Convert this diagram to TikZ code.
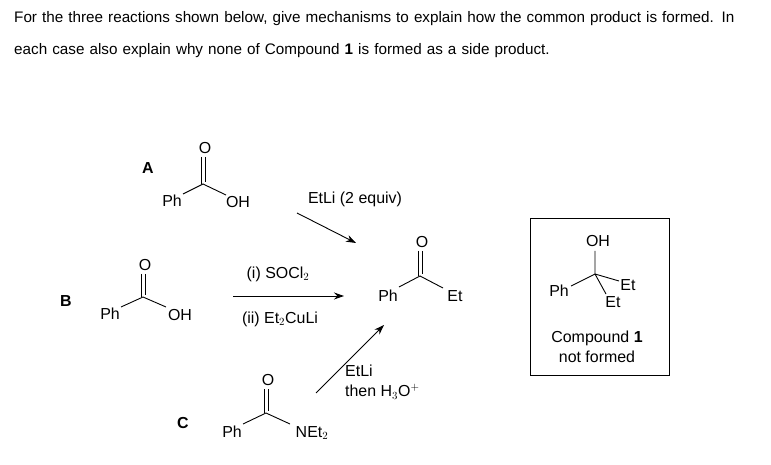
\documentclass[tikz,border=0pt]{standalone}
\usepackage{fontspec}
\setmainfont{Liberation Sans}
\usetikzlibrary{arrows.meta}
\begin{document}
\begin{tikzpicture}[x=1bp,y=-1bp,
  lab/.style={font=\fontsize{16}{18}\selectfont, inner sep=0pt},
  bd/.style={line width=0.9bp},
  rx/.style={line width=0.9bp,-{Stealth[length=10bp,width=7bp]}}]
\useasboundingbox (0,0) rectangle (771,465);
\node[anchor=north west, text width=757bp, inner sep=0pt, font=\fontsize{15.3}{32}\selectfont] (txt) at (14,11)
{For the three reactions shown below, give mechanisms to explain how the common product is formed. In each case also explain why none of Compound \textbf{1} is formed as a side product.};
% A
\node[lab,font=\bfseries\fontsize{16}{18}\selectfont] (lA) at (148,168) {A};
\node[lab] (aO) at (205,148) {O};
\node[lab] (aPh) at (172,201) {Ph};
\node[lab] (aOH) at (238,202) {OH};
\coordinate (aC) at (203,184);
\draw[bd] (183,194) -- (aC) -- (226,195);
\draw[bd] (201,157) -- (201,184) (205,157) -- (205,182);
% B
\node[lab,font=\bfseries\fontsize{16}{18}\selectfont] (lB) at (66,301) {B};
\node[lab] (bO) at (145,265) {O};
\node[lab] (bPh) at (110,314) {Ph};
\node[lab] (bOH) at (180,315) {OH};
\coordinate (bC) at (143,297);
\draw[bd] (121,307) -- (bC) -- (166,307);
\draw[bd] (141,274) -- (141,297) (145,274) -- (145,295);
% C
\node[lab,font=\bfseries\fontsize{16}{18}\selectfont] (lC) at (183,423) {C};
\node[lab] (cO) at (268,380) {O};
\node[lab] (cPh) at (232,432) {Ph};
\node[lab] (cN) at (312,433) {NEt$_2$};
\coordinate (cC) at (266,413);
\draw[bd] (243,424) -- (cC) -- (290,424);
\draw[bd] (264,389) -- (264,413) (268,389) -- (268,411);
% product
\node[lab] (pO) at (422,242) {O};
\node[lab] (pPh) at (388,296) {Ph};
\node[lab] (pEt) at (455,296) {Et};
\coordinate (pC) at (420,276);
\draw[bd] (399,287) -- (pC) -- (443,288);
\draw[bd] (418,251) -- (418,276) (422,251) -- (422,274);
% arrows
\coordinate (a1) at (297,213); \coordinate (a2) at (356,243);
\draw[rx] (a1) -- (a2);
\node[lab] (lab1) at (355,199) {EtLi (2 equiv)};
\coordinate (b1) at (233,296); \coordinate (b2) at (344,296);
\draw[rx] (b1) -- (b2);
\node[lab] (lab2) at (278,274) {(i) SOCl$_2$};
\node[lab] (lab3) at (280,319) {(ii) Et$_2$CuLi};
\coordinate (c1) at (316,393); \coordinate (c2) at (384,325);
\draw[rx] (c1) -- (c2);
\node[lab, anchor=west, align=left, font=\fontsize{16}{21}\selectfont] (lab4) at (345,382) {EtLi\\then H$_3$O$^+$};
% box
\draw[line width=1bp] (530,219) rectangle (669,375);
\node[lab] (dOH) at (598,241) {OH};
\node[lab] (dPh) at (559,291) {Ph};
\node[lab] (dEt1) at (628,285) {Et};
\node[lab] (dEt2) at (613,302) {Et};
\coordinate (dC) at (595,274);
\draw[bd] (595,251) -- (dC) -- (571,286);
\draw[bd] (dC) -- (619,281) (dC) -- (606,294);
\node[lab, align=center, font=\fontsize{16}{20}\selectfont] (cmp) at (597,347) {Compound \textbf{1}\\not formed};
\end{tikzpicture}
\end{document}
